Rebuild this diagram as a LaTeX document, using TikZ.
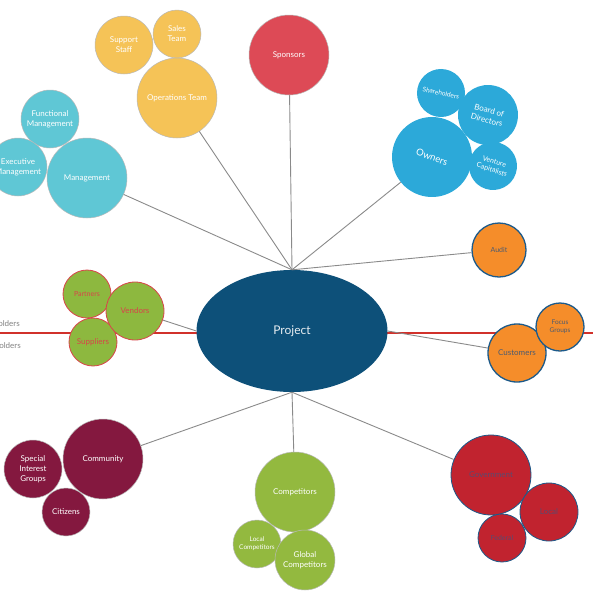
\documentclass[tikz,border=0pt]{standalone}
\usepackage{fontspec}
\setmainfont{Lato}
\usetikzlibrary{shapes.geometric}
\definecolor{cyel}{HTML}{F5C357}
\definecolor{cteal}{HTML}{5FC7D5}
\definecolor{cspon}{HTML}{DD4A56}
\definecolor{cblue}{HTML}{2CA9D9}
\definecolor{corg}{HTML}{F58D2A}
\definecolor{cnavy}{HTML}{1C5A8A}
\definecolor{cproj}{HTML}{0D5079}
\definecolor{cgrn}{HTML}{8DB83F}
\definecolor{cgrn2}{HTML}{93B93F}
\definecolor{credl}{HTML}{D9434A}
\definecolor{cmar}{HTML}{84183F}
\definecolor{cgov}{HTML}{C1232F}
\definecolor{cline}{HTML}{8A8A8A}
\definecolor{cbar}{HTML}{D1312B}
\definecolor{ctxt}{HTML}{4C5B70}
\definecolor{cgovt}{HTML}{5B4A6E}
\tikzset{
  bub/.style={circle, inner sep=0pt, align=center, text=white, draw=gray!55, line width=0.5pt},
  orgbub/.style={bub, fill=corg, draw=cnavy, line width=1.3pt, text=ctxt},
  prtbub/.style={bub, fill=cgrn, draw=credl, line width=0.8pt, text=credl},
  govbub/.style={bub, fill=cgov, draw=cnavy, line width=0.8pt, text=cgovt},
  conn/.style={draw=cline, line width=0.9pt},
  fa/.style={font=\fontsize{9.5}{11}\selectfont},
  fb/.style={font=\fontsize{8}{10}\selectfont},
  fc/.style={font=\fontsize{7}{8.5}\selectfont},
  fd/.style={font=\fontsize{6.5}{8}\selectfont},
}
\begin{document}
\begin{tikzpicture}[x=1pt,y=-1pt]
\useasboundingbox (0,0) rectangle (593,600);
\clip (0,0) rectangle (593,600);
% stakeholder line
\coordinate (barL) at (0,333);
\coordinate (barR) at (593,333);
\draw[cbar, line width=1.6pt] (barL) -- (barR);
\node[anchor=east, text=gray, fb, inner sep=0pt] (intl) at (20,324) {olders};
\node[anchor=east, text=gray, fb, inner sep=0pt] (extl) at (21,346) {olders};
% project
\node[ellipse, fill=cproj, minimum width=191pt, minimum height=122pt, inner sep=0pt, text=white!90!cproj, font=\fontsize{12}{14}\selectfont] (proj) at (292,331) {Project};
% yellow group
\node[bub, fill=cyel, minimum size=58pt, fb] (supp) at (124,45) {Support\\Staff};
\node[bub, fill=cyel, minimum size=48pt, fb] (sales) at (177,34) {Sales\\Team};
\node[bub, fill=cyel, minimum size=80pt, fb] (ops) at (177,98) {Operations Team};
% teal group
\node[bub, fill=cteal, minimum size=58pt, fb] (func) at (50,119) {Functional\\Management};
\node[bub, fill=cteal, minimum size=58pt, fb] (exec) at (18,167) {Executive\\Management};
\node[bub, fill=cteal, minimum size=80pt, fb] (mgmt) at (87,178) {Management};
% sponsors
\node[bub, fill=cspon, minimum size=80pt, fb] (spon) at (289,55) {Sponsors};
% owners group
\node[bub, fill=cblue, draw=none, minimum size=48pt, fd, rotate=-12] (share) at (441,93) {Shareholders};
\node[bub, fill=cblue, draw=none, minimum size=60pt, fb, rotate=-15] (board) at (488,115) {Board of\\Directors};
\node[bub, fill=cblue, draw=none, minimum size=80pt, fa, rotate=-20] (own) at (432,157) {Owners};
\node[bub, fill=cblue, draw=none, minimum size=48pt, fc, rotate=-18] (vent) at (493,166) {Venture\\Capitalists};
% audit, customers
\node[orgbub, minimum size=54pt, fc] (aud) at (499,250) {Audit};
\node[orgbub, minimum size=58pt, fb] (cust) at (517,353) {Customers};
\node[orgbub, minimum size=48pt, fd] (focus) at (560,327) {Focus\\Groups};
% partners group
\node[prtbub, minimum size=48pt, fc] (part) at (87,294) {Partners};
\node[prtbub, minimum size=48pt, fb] (suppl) at (93,342) {Suppliers};
\node[prtbub, minimum size=58pt, fb] (vend) at (135,311) {Vendors};
% community group
\node[bub, fill=cmar, minimum size=80pt, fb] (comm) at (103,459) {Community};
\node[bub, fill=cmar, minimum size=58pt, fb] (sig) at (33,469) {Special\\Interest\\Groups};
\node[bub, fill=cmar, minimum size=48pt, fb] (citz) at (66,512) {Citizens};
% competitors group
\node[bub, fill=cgrn2, minimum size=80pt, fb] (comp) at (295,492) {Competitors};
\node[bub, fill=cgrn2, minimum size=48pt, fd] (lcomp) at (257,544) {Local\\Competitors};
\node[bub, fill=cgrn2, minimum size=60pt, fb] (gcomp) at (305,560) {Global\\Competitors};
% government group
\node[govbub, minimum size=80pt, fb] (gov) at (491,475) {Government};
\node[govbub, minimum size=58pt, fb] (loc) at (549,512) {Local};
\node[govbub, minimum size=48pt, fc] (fed) at (502,538) {Federal};
% connectors
\draw[conn] (proj.north) -- (ops);
\draw[conn] (proj.north) -- (mgmt);
\draw[conn] (proj.north) -- (spon);
\draw[conn] (proj.north) -- (own);
\draw[conn] (proj.north) -- (aud);
\draw[conn] (proj.west) -- (vend);
\draw[conn] (proj.east) -- (cust);
\draw[conn] (proj.south) -- (comm);
\draw[conn] (proj.south) -- (comp);
\draw[conn] (proj.south) -- (gov);
\end{tikzpicture}
\end{document}
